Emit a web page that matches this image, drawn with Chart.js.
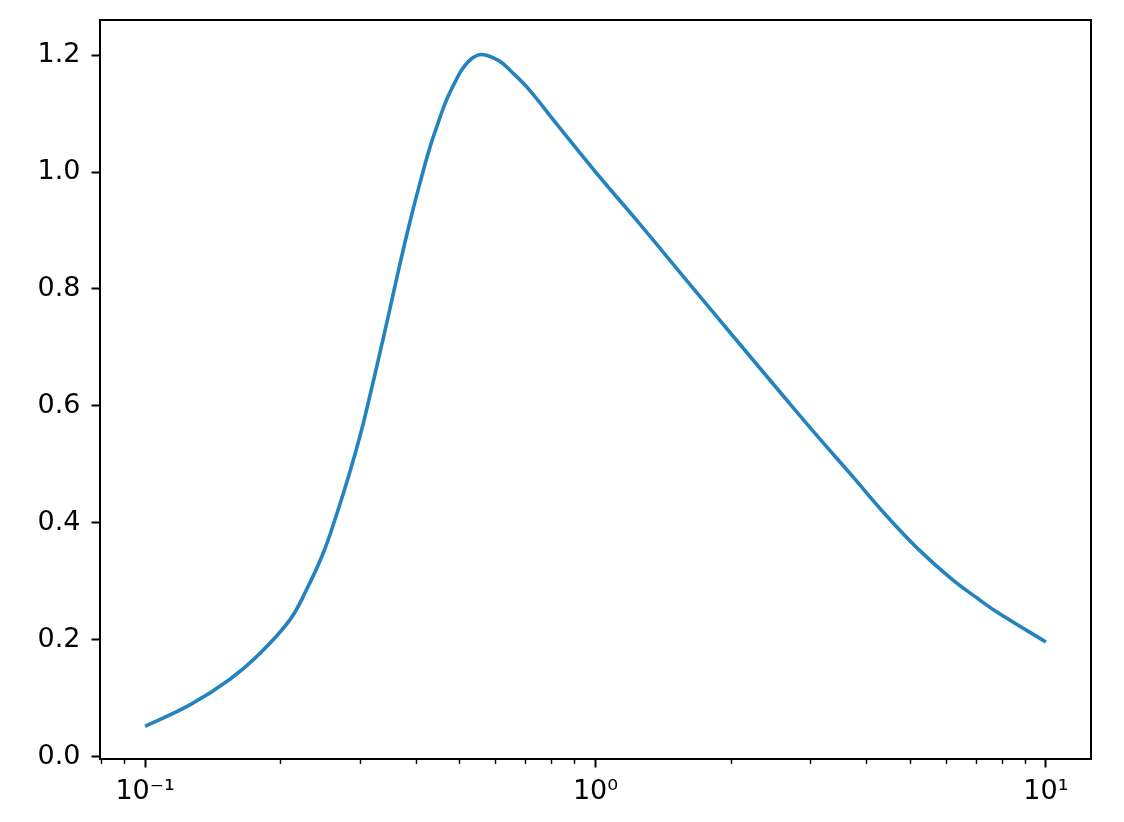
<!doctype html>
<html lang="en">
<head>
    <meta charset="utf-8">
    <title>Log-x curve</title>
    <script src="https://cdn.jsdelivr.net/npm/chart.js@4.4.0/dist/chart.umd.min.js"></script>
</head>
<style>
    body{
        margin: 0;
        background: #fff;
    }
</style>
<body>
    <canvas id="myChart" width="1124" height="822"></canvas>
  <script>
        // curve (x on a log axis)
        let xVals = [0.1, 0.126, 0.154, 0.18, 0.2096, 0.228, 0.2482, 0.2658, 0.2844, 0.302,
                     0.315, 0.3315, 0.3488, 0.3672, 0.3864, 0.4065, 0.428, 0.45, 0.466, 0.49,
                     0.507, 0.533, 0.561, 0.611, 0.65, 0.712, 0.816, 1.0, 1.248, 1.611,
                     2.078, 2.637, 3.126, 3.705, 4.391, 5.206, 6.17, 7.07, 7.83, 10];
        let yVals = [0.052, 0.089, 0.132, 0.177, 0.234, 0.285, 0.347, 0.413, 0.485, 0.557,
                     0.615, 0.688, 0.763, 0.840, 0.912, 0.978, 1.040, 1.090, 1.122, 1.157,
                     1.177, 1.195, 1.201, 1.190, 1.172, 1.141, 1.084, 1.0, 0.913, 0.810,
                     0.708, 0.613, 0.546, 0.481, 0.415, 0.355, 0.304, 0.270, 0.246, 0.196];

        let majorTicks = [0.1, 1, 10];
        let majorLabels = ["10\u207B\u00B9", "10\u2070", "10\u00B9"];
        let minorTicks = [0.08, 0.09, 0.2, 0.3, 0.4, 0.5, 0.6, 0.7, 0.8, 0.9,
                          2, 3, 4, 5, 6, 7, 8, 9];
        let yTicks = [0, 0.2, 0.4, 0.6, 0.8, 1.0, 1.2];

        let xMin = 0.0794, xMax = 12.59;
        let yMin = -0.004, yMax = 1.26;

        let font = {family: "'DejaVu Sans'", size: 27};

        let points = xVals.map((x, i) => ({x: x, y: yVals[i]}));

        let noPad = (s) => {
            s.paddingTop = 0; s.paddingBottom = 0;
            s.paddingLeft = 0; s.paddingRight = 0;
        };

        let frameAxis = (pos) => ({
            type: 'linear',
            position: pos,
            min: 0, max: 1,
            ticks: {display: false},
            grid: {display: true, drawOnChartArea: false, drawTicks: false},
            border: {display: true, color: '#000', width: 2},
            afterFit: (s) => {
                if (pos == 'top') s.height = 0; else s.width = 0;
                noPad(s);
            }
        });

        let ctx = document.getElementById("myChart");
        let myChart = new Chart(ctx, {
            type: 'line',
            data: {
                datasets: [{
                    data: points,
                    borderColor: '#2283bf',
                    borderWidth: 3.6,
                    pointRadius: 0,
                    fill: false,
                    tension: 0.4
                }]
            },
            options: {
                responsive: false,
                animation: false,
                devicePixelRatio: 1,
                layout: {padding: {left: 0, top: 20, right: 33, bottom: 0}},
                plugins: {legend: {display: false}, tooltip: {enabled: false}},
                scales: {
                    x: {
                        type: 'logarithmic',
                        position: 'bottom',
                        weight: 1,
                        min: xMin, max: xMax,
                        bounds: 'data',
                        afterBuildTicks: (s) => { s.ticks = majorTicks.map(v => ({value: v, major: true})); },
                        afterFit: (s) => { s.height = 63; noPad(s); },
                        ticks: {
                            autoSkip: false,
                            maxRotation: 0,
                            padding: 8,
                            color: '#000',
                            font: font,
                            callback: (v) => majorLabels[majorTicks.indexOf(v)]
                        },
                        grid: {drawOnChartArea: false, tickLength: 8.5, tickWidth: 2, tickColor: '#000'},
                        border: {display: true, color: '#000', width: 2}
                    },
                    x2: {
                        type: 'logarithmic',
                        position: 'bottom',
                        weight: 0,
                        min: xMin, max: xMax,
                        bounds: 'data',
                        afterBuildTicks: (s) => { s.ticks = minorTicks.map(v => ({value: v})); },
                        afterFit: (s) => { s.height = 0; noPad(s); },
                        ticks: {display: false, autoSkip: false},
                        grid: {drawOnChartArea: false, tickLength: 4.9, tickWidth: 1.5, tickColor: '#000'},
                        border: {display: false}
                    },
                    y: {
                        type: 'linear',
                        position: 'left',
                        min: yMin, max: yMax,
                        bounds: 'data',
                        afterBuildTicks: (s) => { s.ticks = yTicks.map(v => ({value: v})); },
                        afterFit: (s) => { s.width = 100; noPad(s); },
                        ticks: {
                            autoSkip: false,
                            padding: 11,
                            color: '#000',
                            font: font,
                            callback: (v) => v.toFixed(1)
                        },
                        grid: {drawOnChartArea: false, tickLength: 8.5, tickWidth: 2, tickColor: '#000'},
                        border: {display: true, color: '#000', width: 2}
                    },
                    top: frameAxis('top'),
                    right: frameAxis('right')
                }
            }
        });
  </script>
</body>
</html>
